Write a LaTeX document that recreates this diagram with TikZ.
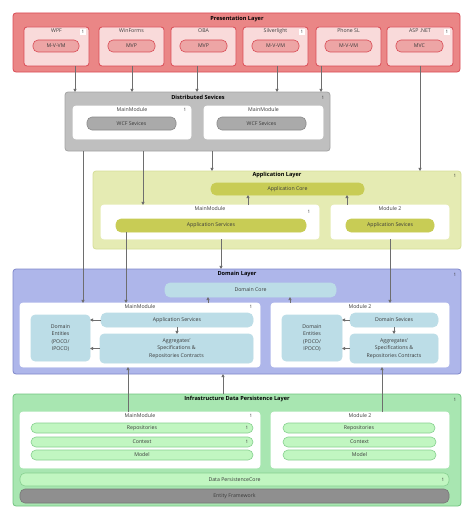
\documentclass[tikz,border=0pt]{standalone}
\usepackage{fontspec}
\setmainfont{Open Sans}
\usetikzlibrary{arrows.meta}
\definecolor{presF}{HTML}{EA8686}
\definecolor{presD}{HTML}{D94B55}
\definecolor{presS}{HTML}{F9DADA}
\definecolor{presP}{HTML}{EDA5A5}
\definecolor{dsF}{HTML}{BFBFBF}
\definecolor{dsD}{HTML}{A3A3A3}
\definecolor{wcfF}{HTML}{AAAAAA}
\definecolor{wcfD}{HTML}{8A8A8A}
\definecolor{apF}{HTML}{E5EBB3}
\definecolor{apD}{HTML}{D6DE98}
\definecolor{apP}{HTML}{C8CC55}
\definecolor{doF}{HTML}{AEB6EA}
\definecolor{doD}{HTML}{7F87C9}
\definecolor{doB}{HTML}{BCDDE7}
\definecolor{inF}{HTML}{A8E6B1}
\definecolor{inD}{HTML}{72C47F}
\definecolor{inP}{HTML}{C1F6C1}
\definecolor{inPD}{HTML}{86D08F}
\definecolor{efF}{HTML}{8F8F8F}
\definecolor{efD}{HTML}{777777}
\definecolor{linec}{HTML}{6E6E6E}
\definecolor{txt}{HTML}{3A3A3A}
\newcommand\B[7]{\node[#1, inner sep=0pt, outer sep=0pt, minimum width={(#5-#3)*1pt}, minimum height={(#6-#4)*1pt}, anchor=north west] (#2) at (#3,#4) {#7};}
\newcommand\vc[4]{\coordinate (#1) at (#2,0); \draw[arr] (#1 |- #3) -- (#1 |- #4);}
\begin{document}
\begin{tikzpicture}[x=1pt,y=-1pt,
  lay/.style={rounded corners=3pt, line width=0.8pt},
  sub/.style={rounded corners=3pt, line width=0.7pt, fill=white, draw=white},
  pill/.style={rounded corners=5pt, line width=0.6pt, font=\fontsize{5.2}{6}\selectfont, text=txt, align=center},
  multi/.style={rounded corners=4pt, line width=0.6pt, font=\fontsize{5.2}{7.4}\selectfont, text=txt, align=center},
  ttl/.style={font=\bfseries\fontsize{5.6}{6.5}\selectfont, text=black, inner sep=0pt},
  lbl/.style={font=\fontsize{5.2}{6}\selectfont, text=txt, inner sep=0pt},
  one/.style={font=\fontsize{4.6}{5}\selectfont, text=txt, inner sep=0pt},
  onebox/.style={font=\fontsize{4.6}{5}\selectfont, text=txt, inner sep=0pt, fill=white, minimum width=6pt, minimum height=6pt},
  arr/.style={draw=linec, line width=0.7pt, -{Triangle[width=3.2pt,length=3.2pt]}}]
\useasboundingbox (0,0) rectangle (474,519);
% ---------------- Presentation layer
\B{lay, fill=presF, draw=presD}{pres}{13}{13}{460}{72}{}
\node[ttl] (prest) at (237,19) {Presentation Layer};
\B{lay, fill=presS, draw=presD}{wpf}{24}{27}{89}{66}{}
\B{lay, fill=presS, draw=presD}{winf}{99}{27}{164}{66}{}
\B{lay, fill=presS, draw=presD}{oba}{171}{27}{236}{66}{}
\B{lay, fill=presS, draw=presD}{silv}{243}{27}{308}{66}{}
\B{lay, fill=presS, draw=presD}{phone}{316}{27}{381}{66}{}
\B{lay, fill=presS, draw=presD}{asp}{387}{27}{453}{66}{}
\node[lbl] (wpft) at (56.5,31) {WPF};
\node[lbl] (winft) at (131.5,31) {WinForms};
\node[lbl] (obat) at (203.5,31) {OBA};
\node[lbl] (silvt) at (275.5,31) {Silverlight};
\node[lbl] (phonet) at (348.5,31) {Phone SL};
\node[lbl] (aspt) at (420,31) {ASP .NET};
\node[onebox] (wpf1) at (83,32) {1};
\node[onebox] (silv1) at (302,32) {1};
\node[onebox] (asp1) at (447,32) {1};
\B{pill, fill=presP, draw=presD}{wpfp}{33}{40}{79}{52}{M-V-VM}
\B{pill, fill=presP, draw=presD}{winfp}{108}{40}{155}{52}{MVP}
\B{pill, fill=presP, draw=presD}{obap}{180}{40}{227}{52}{MVP}
\B{pill, fill=presP, draw=presD}{silvp}{252}{40}{299}{52}{M-V-VM}
\B{pill, fill=presP, draw=presD}{phonep}{325}{40}{372}{52}{M-V-VM}
\B{pill, fill=presP, draw=presD}{aspp}{396}{40}{443}{52}{MVC}
% ---------------- Distributed services
\B{lay, fill=dsF, draw=dsD}{ds}{65}{92}{330}{151}{}
\node[ttl] (dst) at (198,97) {Distributed Sevices};
\node[one] (ds1) at (323,98) {1};
\B{sub}{dsm1}{73}{106}{191}{139}{}
\B{sub}{dsm2}{204}{106}{323}{139}{}
\node[lbl] (dsm1t) at (132,110) {MainModule};
\node[one] (dsm11) at (185,110) {1};
\node[lbl] (dsm2t) at (263.5,110) {MainModule};
\B{pill, fill=wcfF, draw=wcfD}{wcf1}{87}{117}{176}{130}{WCF Sevices}
\B{pill, fill=wcfF, draw=wcfD}{wcf2}{217}{117}{306}{130}{WCF Sevices}
% ---------------- Application layer
\B{lay, fill=apF, draw=apD}{app}{93}{171}{461}{249}{}
\node[ttl] (appt) at (277,175.5) {Application Layer};
\node[one] (app1) at (455,176) {1};
\B{pill, fill=apP, draw=apP}{appcore}{211}{183}{364}{195}{Application Core}
\B{sub}{apm1}{101}{205}{319}{239}{}
\B{sub}{apm2}{331}{205}{449}{239}{}
\node[lbl] (apm1t) at (210,209) {MainModule};
\node[one] (apm11) at (309,212) {1};
\node[lbl] (apm2t) at (390,209) {Module 2};
\B{pill, fill=apP, draw=apP}{aps1}{116}{219}{306}{232}{Application Services}
\B{pill, fill=apP, draw=apP}{aps2}{346}{219}{434}{232}{Application Sevices}
% ---------------- Domain layer
\B{lay, fill=doF, draw=doD}{dom}{13}{269}{461}{374}{}
\node[ttl] (domt) at (237,274) {Domain Layer};
\node[one] (dom1) at (455,275) {1};
\B{pill, fill=doB, draw=doB}{domcore}{165}{283}{336}{297}{Domain Core}
\B{sub}{dm1}{20}{303}{260}{367}{}
\B{sub}{dm2}{271}{303}{449}{367}{}
\node[lbl] (dm1t) at (140,307) {MainModule};
\node[one] (dm11) at (251,307) {1};
\node[lbl] (dm2t) at (360,307) {Module 2};
\B{multi, fill=doB, draw=doB}{dent1}{31}{315}{90}{361}{Domain\\Entities\\(POCO/\\IPOCO)}
\B{multi, fill=doB, draw=doB}{dent2}{282}{315}{342}{361}{Domain\\Entities\\(POCO/\\IPOCO)}
\B{pill, fill=doB, draw=doB}{das1}{101}{313}{253}{327}{Application Services}
\B{pill, fill=doB, draw=doB}{dds2}{350}{313}{438}{327}{Domain Sevices}
\B{multi, fill=doB, draw=doB}{dagg1}{100}{334}{253}{363}{Aggregates'\\Specifications \&\\Repositories Contracts}
\B{multi, fill=doB, draw=doB}{dagg2}{350}{334}{438}{363}{Aggregates'\\Specifications \&\\Repositories Contracts}
% ---------------- Infrastructure layer
\B{lay, fill=inF, draw=inD}{inf}{13}{394}{461}{506}{}
\node[ttl] (inft) at (237,399) {Infrastructure Data Persistence Layer};
\node[one] (inf1) at (455,400) {1};
\B{sub}{im1}{20}{412}{260}{468}{}
\B{sub}{im2}{271}{412}{449}{468}{}
\node[lbl] (im1t) at (140,415.5) {MainModule};
\node[one] (im11) at (251,415.5) {1};
\node[lbl] (im2t) at (360,415.5) {Module 2};
\B{pill, fill=inP, draw=inPD}{rep1}{31}{423}{253}{433}{Repositories}
\B{pill, fill=inP, draw=inPD}{ctx1}{31}{437}{253}{447}{Context}
\B{pill, fill=inP, draw=inPD}{mod1}{31}{450}{253}{460}{Model}
\node[one] (rep11) at (247,428) {1};
\node[one] (ctx11) at (247,442) {1};
\B{pill, fill=inP, draw=inPD}{rep2}{283}{423}{435}{433}{Repositories}
\B{pill, fill=inP, draw=inPD}{ctx2}{283}{437}{436}{447}{Context}
\B{pill, fill=inP, draw=inPD}{mod2}{283}{450}{436}{460}{Model}
\B{pill, fill=inP, draw=inPD}{dpc}{20}{473}{449}{486}{Data PersistenceCore}
\node[one] (dpc1) at (443,479.5) {1};
\B{pill, fill=efF, draw=efD}{ef}{20}{489}{449}{503}{Entity Framework}
% ---------------- Connectors
\vc{c1}{75}{wpf.south}{ds.north}
\vc{c2}{132}{winf.south}{ds.north}
\vc{c3}{197}{oba.south}{ds.north}
\vc{c4}{277}{silv.south}{ds.north}
\vc{c5}{321}{phone.south}{ds.north}
\vc{c6}{420}{asp.south}{app.north}
\vc{c7}{83}{ds.south}{dm1.north}
\vc{c8}{143}{ds.south}{apm1.north}
\vc{c9}{212}{ds.south}{app.north}
\vc{c10}{248}{apm1.north}{appcore.south}
\vc{c11}{347}{apm2.north}{appcore.south}
\vc{c12}{126}{aps1.south}{dm1.north}
\vc{c13}{221}{apm1.south}{dom.north}
\vc{c14}{390}{apm2.south}{dm2.north}
\vc{c15}{208}{dm1.north}{domcore.south}
\vc{c16}{290}{dm2.north}{domcore.south}
\draw[arr] (das1.west) -- (das1.west -| dent1.east);
\draw[arr] (dagg1.west) -- (dagg1.west -| dent1.east);
\draw[arr] (dds2.west) -- (dds2.west -| dent2.east);
\draw[arr] (dagg2.west) -- (dagg2.west -| dent2.east);
\draw[arr] (das1.south) -- (dagg1.north -| das1.south);
\draw[arr] (dds2.south) -- (dagg2.north -| dds2.south);
\vc{c17}{128}{im1.north}{dm1.south}
\vc{c18}{223}{inf.north}{dom.south}
\vc{c19}{382}{im2.north}{dm2.south}
\end{tikzpicture}
\end{document}
